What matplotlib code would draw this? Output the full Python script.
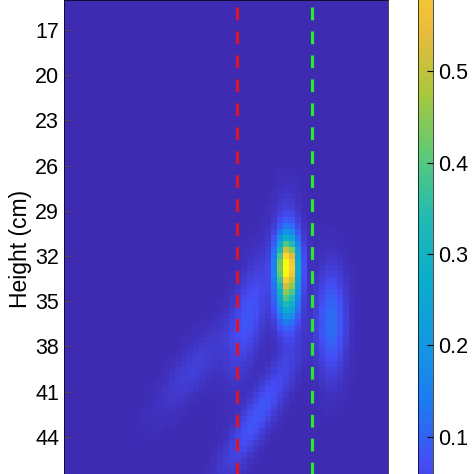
import numpy as np
import matplotlib
matplotlib.use("Agg")
import matplotlib.pyplot as plt
from matplotlib.colors import LinearSegmentedColormap

plt.rcParams['font.family'] = ['Liberation Sans', 'DejaVu Sans']

# approximate parula
parula_pos = [0.0, 0.1, 0.2, 0.3, 0.4, 0.5, 0.6, 0.7, 0.8, 0.9, 1.0]
parula_rgb = [(0.24, 0.15, 0.66), (0.27, 0.30, 0.96), (0.12, 0.48, 0.95),
              (0.07, 0.60, 0.88), (0.04, 0.68, 0.80), (0.13, 0.73, 0.70),
              (0.36, 0.79, 0.47), (0.66, 0.78, 0.24), (0.92, 0.73, 0.24),
              (0.99, 0.82, 0.18), (0.98, 0.98, 0.05)]
parula = LinearSegmentedColormap.from_list("parula", list(zip(parula_pos, parula_rgb)))

# field components: x (0..1), height (cm), widths, amplitude, tilt (x per cm)
comp_x = [0.69, 0.69, 0.69, 0.825, 0.57, 0.40, 0.60]
comp_y = [32.6, 33.2, 35.0, 36.4, 36.0, 39.5, 42.5]
comp_sx = [0.022, 0.026, 0.022, 0.030, 0.035, 0.045, 0.035]
comp_sy = [1.2, 2.6, 1.0, 2.3, 2.6, 2.0, 2.6]
comp_amp = [0.55, 0.15, 0.17, 0.11, 0.07, 0.035, 0.075]
comp_tilt = [0.0, 0.0, 0.0, 0.0, -0.01, -0.03, -0.025]
background = 0.01

xs = np.linspace(0, 1, 55)
ys = np.arange(14.0, 49.0, 0.4)
X, Y = np.meshgrid(xs, ys)
Z = np.full_like(X, background)
for cx, cy, sx, sy, a, t in zip(comp_x, comp_y, comp_sx, comp_sy, comp_amp, comp_tilt):
    dx = X - (cx + t * (Y - cy))
    Z += a * np.exp(-0.5 * ((dx / sx) ** 2 + ((Y - cy) / sy) ** 2))

red_x = 0.534
green_x = 0.765

fig = plt.figure(figsize=(4.74, 4.74), dpi=100)
ax = fig.add_axes([64 / 474, -23 / 474, 324 / 474, 497 / 474])
mesh = ax.pcolormesh(xs, ys, Z, cmap=parula, vmin=0, vmax=0.68, shading='nearest')
ax.axvline(red_x, color=(0.85, 0.08, 0.18), ls=(0, (4, 3.5)), lw=2.3)
ax.axvline(green_x, color=(0.15, 0.92, 0.15), ls=(0, (4, 3.5)), lw=2.3)
ax.set_xlim(0, 1)
ax.set_ylim(48, 15.0)
ax.set_yticks([17, 20, 23, 26, 29, 32, 35, 38, 41, 44, 47])
ax.set_xticks([])
ax.tick_params(direction='in', labelsize=15.5, length=4, color='0.3')
ax.set_ylabel("Height (cm)", fontsize=16.5, labelpad=2)
for s in ax.spines.values():
    s.set_linewidth(0.5)

cax = fig.add_axes([418 / 474, -54 / 474, 15 / 474, 621 / 474])
cb = fig.colorbar(mesh, cax=cax, ticks=[0.1, 0.2, 0.3, 0.4, 0.5])
cb.ax.tick_params(direction='in', labelsize=15.5, length=4)
cb.outline.set_linewidth(0.5)

fig.savefig("out.png", dpi=100)
